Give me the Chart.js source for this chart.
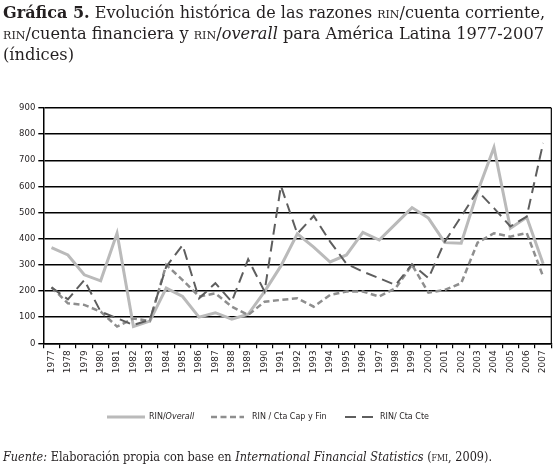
<!DOCTYPE html>
<html>
<head>
<meta charset="utf-8">
<script src="https://cdn.jsdelivr.net/npm/chart.js@4.4.1/dist/chart.umd.min.js"></script>
<style>
  html, body { margin: 0; padding: 0; background: #fff; }
  body { width: 556px; height: 470px; position: relative; overflow: hidden; }
  #c { position: absolute; left: 0; top: 0; }
  .title { position: absolute; left: 3px; top: 2px; font-family: "DejaVu Serif", serif; font-size: 16px; line-height: 21px; color: #231f20; white-space: nowrap; }
  .sc { font-variant: small-caps; }
  .foot { position: absolute; left: 3px; top: 449px; font-family: "DejaVu Serif", serif; font-size: 13px; color: #231f20; white-space: nowrap; }
</style>
</head>
<body>
<canvas id="c" width="556" height="470"></canvas>
<div class="title" id="t"><span id="l1"><b>Gráfica 5.</b> Evolución histórica de las razones <span class="sc">rin</span>/cuenta corriente,</span><br><span id="l2"><span class="sc">rin</span>/cuenta financiera y <span class="sc">rin</span>/<i>overall</i> para América Latina 1977-2007</span><br><span id="l3">(índices)</span></div>
<div class="foot" id="f"><i>Fuente:</i> Elaboración propia con base en <i>International Financial Statistics</i> (<span class="sc">fmi</span>, 2009).</div>
<script>
const years = ['1977','1978','1979','1980','1981','1982','1983','1984','1985','1986','1987','1988','1989','1990','1991','1992','1993','1994','1995','1996','1997','1998','1999','2000','2001','2002','2003','2004','2005','2006','2007'];
const overall = [366,338,262,239,421,64,85,211,179,100,117,92,111,198,296,419,368,311,338,424,395,457,519,479,385,383,580,749,440,482,304];
const ctaCapFin = [214,153,147,121,64,95,85,300,242,179,191,140,108,159,166,172,140,185,198,198,179,211,300,194,204,230,385,421,408,422,255];
const ctaCte = [214,168,242,121,96,70,90,293,376,172,230,159,322,198,602,419,487,389,304,274,249,223,303,249,389,485,583,517,447,485,766];
const yTicks = [0,100,200,300,400,500,600,700,800,900];
const seriesLabels = ['RIN/Overall', 'RIN / Cta Cap y Fin', 'RIN/ Cta Cte'];

// Fit title lines to reference widths
function fit(id, w) {
  const el = document.getElementById(id);
  el.style.display = 'inline-block';
  const cur = el.getBoundingClientRect().width;
  el.style.transformOrigin = '0 0';
  el.style.transform = 'scaleX(' + (w / cur) + ')';
}
fit('l1', 542); fit('l2', 541); fit('l3', 71); fit('f', 489);

const legendPlugin = {
  id: 'customLegend',
  afterDraw(chart) {
    const ctx = chart.ctx;
    const ca = chart.chartArea;
    // right border
    ctx.save();
    ctx.strokeStyle = '#000';
    ctx.lineWidth = 1.2;
    ctx.beginPath();
    ctx.moveTo(ca.right, ca.top);
    ctx.lineTo(ca.right, ca.bottom);
    ctx.stroke();
    // legend
    const items = [
      { x1: 107, x2: 145, tx: 149 },
      { x1: 211, x2: 244, tx: 252 },
      { x1: 345, x2: 373, tx: 380 }
    ];
    const y = 417;
    chart.data.datasets.forEach((ds, i) => {
      const it = items[i];
      ctx.strokeStyle = ds.borderColor;
      ctx.lineWidth = ds.borderWidth;
      ctx.setLineDash(ds.borderDash || []);
      ctx.beginPath();
      ctx.moveTo(it.x1, y);
      ctx.lineTo(it.x2, y);
      ctx.stroke();
      ctx.setLineDash([]);
      ctx.fillStyle = '#231f20';
      ctx.textBaseline = 'middle';
      const lbl = seriesLabels[i];
      if (i === 0) {
        const parts = lbl.split('/');
        ctx.font = '8px "DejaVu Sans"';
        ctx.fillText(parts[0] + '/', it.tx, y);
        const w = ctx.measureText(parts[0] + '/').width;
        ctx.font = 'italic 8px "DejaVu Sans"';
        ctx.fillText(parts[1], it.tx + w, y);
      } else {
        ctx.font = '8px "DejaVu Sans"';
        ctx.fillText(lbl, it.tx, y);
      }
    });
    ctx.restore();
  }
};

new Chart(document.getElementById('c'), {
  type: 'line',
  data: {
    labels: years,
    datasets: [
      { label: seriesLabels[0], data: overall, borderColor: '#bababa', borderWidth: 3, pointRadius: 0, tension: 0, fill: false, order: 3 },
      { label: seriesLabels[1], data: ctaCapFin, borderColor: '#8e8e8e', borderWidth: 2.5, borderDash: [6, 3.5], pointRadius: 0, tension: 0, fill: false, order: 2 },
      { label: seriesLabels[2], data: ctaCte, borderColor: '#5e5e5e', borderWidth: 2, borderDash: [11, 6], pointRadius: 0, tension: 0, fill: false, order: 1 }
    ]
  },
  options: {
    responsive: false,
    animation: false,
    devicePixelRatio: 1,
    layout: { padding: { top: 108, bottom: 96.7, left: 0, right: 4.3 } },
    plugins: { legend: { display: false }, tooltip: { enabled: false } },
    scales: {
      x: {
        offset: true,
        grid: { display: true, drawOnChartArea: false, offset: true, tickLength: 5, color: '#000', lineWidth: 1.2 },
        border: { display: true, color: '#000', width: 1.5 },
        ticks: { minRotation: 90, maxRotation: 90, autoSkip: false, padding: 2, color: '#231f20', font: { family: 'DejaVu Sans', size: 9 } },
        afterFit(s) { s.height = 30; }
      },
      y: {
        min: 0, max: 900,
        afterBuildTicks(s) { s.ticks = yTicks.map(v => ({ value: v })); },
        grid: { color: '#000', lineWidth: 1.4, tickLength: 5 },
        border: { display: true, color: '#000', width: 1.5 },
        ticks: { padding: 3, color: '#231f20', font: { family: 'DejaVu Sans', size: 8.5 } },
        afterFit(s) { s.width = 43.3; }
      }
    }
  },
  plugins: [legendPlugin]
});
</script>
</body>
</html>
